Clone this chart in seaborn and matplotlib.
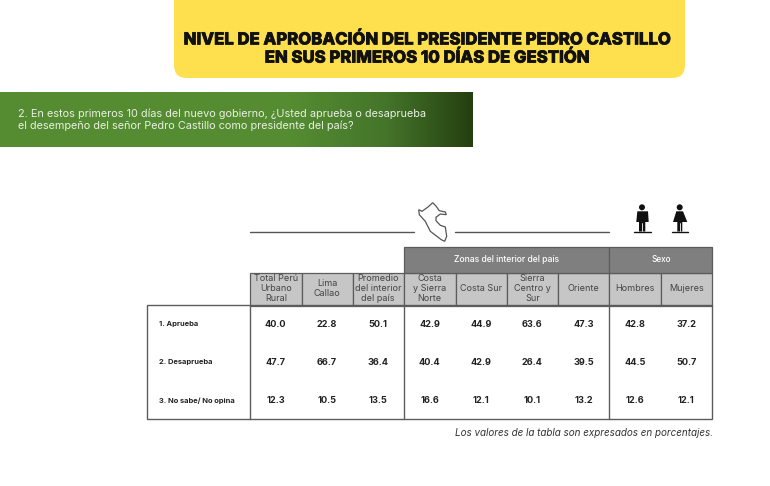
import numpy as np
import pandas as pd
import matplotlib
matplotlib.use("Agg")
import matplotlib.pyplot as plt
import matplotlib.patheffects as pe
import seaborn as sns
from matplotlib.colors import ListedColormap, LinearSegmentedColormap
from matplotlib.patches import FancyBboxPatch, Rectangle, Polygon, Circle

# data
columnas = ["Total Perú\nUrbano\nRural", "Lima\nCallao", "Promedio\ndel interior\ndel país",
            "Costa\ny Sierra\nNorte", "Costa Sur", "Sierra\nCentro y\nSur", "Oriente",
            "Hombres", "Mujeres"]
filas = ["1. Aprueba", "2. Desaprueba", "3. No sabe/ No opina"]
aprueba = [40.0, 22.8, 50.1, 42.9, 44.9, 63.6, 47.3, 42.8, 37.2]
desaprueba = [47.7, 66.7, 36.4, 40.4, 42.9, 26.4, 39.5, 44.5, 50.7]
no_sabe = [12.3, 10.5, 13.5, 16.6, 12.1, 10.1, 13.2, 12.6, 12.1]
titulo = "NIVEL DE APROBACIÓN DEL PRESIDENTE PEDRO CASTILLO\nEN SUS PRIMEROS 10 DÍAS DE GESTIÓN"
pregunta = ("2. En estos primeros 10 días del nuevo gobierno, ¿Usted aprueba o desaprueba\n"
            "el desempeño del señor Pedro Castillo como presidente del país?")
nota = "Los valores de la tabla son expresados en porcentajes."

df = pd.DataFrame([aprueba, desaprueba, no_sabe], index=filas, columns=columnas)

sns.set_theme(style="white")
plt.rcParams["font.family"] = ["Inter", "DejaVu Sans"]

W, H = 770, 486
borde = "#5c5c5c"
fig = plt.figure(figsize=(W / 100, H / 100), dpi=100, facecolor="white")

# heatmap for the value cells, x 250-712 and y 305-419 in pixels
ax = fig.add_axes([250 / W, 1 - 419.5 / H, 462 / W, 114 / H])
sns.heatmap(df, ax=ax, cmap=ListedColormap(["white"]), cbar=False, annot=True, fmt=".1f",
            annot_kws={"fontsize": 6.6, "fontweight": "bold", "color": "#222222"},
            xticklabels=False, yticklabels=False)
ax.set_xlabel("")
ax.set_ylabel("")

# overlay in pixel coordinates for everything around the table
bg = fig.add_axes([0, 0, 1, 1], zorder=3)
bg.set_xlim(0, W)
bg.set_ylim(H, 0)
bg.axis("off")
bg.patch.set_alpha(0)

# yellow title box
bg.add_patch(FancyBboxPatch((174, -30), 511, 108, boxstyle="round,pad=0,rounding_size=13",
                            fc="#fee04e", ec="none"))
bg.text(427.5, 49, titulo, ha="center", va="center", fontsize=12.05, fontweight="heavy",
        color="#111111", linespacing=1.25,
        path_effects=[pe.withStroke(linewidth=0.5, foreground="#111111")])

# green question band with gradient
verde = LinearSegmentedColormap.from_list("verde", [(0, "#558c32"), (0.62, "#558c32"), (0.82, "#44742a"), (1, "#253f10")])
bg.imshow(np.linspace(0, 1, 256).reshape(1, -1), cmap=verde, aspect="auto",
          extent=(0, 473, 147, 92.5), zorder=1)
bg.set_xlim(0, W)
bg.set_ylim(H, 0)
bg.text(18.5, 119.5, pregunta, ha="left", va="center", fontsize=7.85, color="#e8f0e0", linespacing=1.17, zorder=2)

# header cells
xs = [250, 301.6, 352.6, 403.7, 455.7, 506.7, 558, 609.3, 661.3, 712]
for i, col in enumerate(columnas):
    bg.add_patch(Rectangle((xs[i], 272.5), xs[i + 1] - xs[i], 33, fc="#c6c6c6", ec=borde, lw=0.9))
    bg.text((xs[i] + xs[i + 1]) / 2, 288.8, col, ha="center", va="center", fontsize=6.5,
            color="#444444", linespacing=1.14)

bg.add_patch(Rectangle((403.7, 246.8), 205.6, 25.7, fc="#7f7f7f", ec=borde, lw=0.9))
bg.add_patch(Rectangle((609.3, 246.8), 102.7, 25.7, fc="#7f7f7f", ec=borde, lw=0.9))
bg.text(506.5, 259.5, "Zonas del interior del país", ha="center", va="center", fontsize=6.2,
        fontweight="medium", color="white")
bg.text(661, 259.5, "Sexo", ha="center", va="center", fontsize=5.9, fontweight="medium", color="white")

# table frame
bg.add_patch(Rectangle((147.3, 305.3), 564.7, 113.7, fc="none", ec=borde, lw=1))
for x in [250, 403.7, 609.3]:
    bg.plot([x, x], [305.3, 419], color=borde, lw=1)
for y, fila in zip([324, 362, 400], filas):
    bg.text(159, y + 0.4, fila, ha="left", va="center", fontsize=5.4, fontweight="bold", color="#222222")

bg.text(713.5, 433, nota, ha="right", va="center", fontsize=7.1, style="italic", color="#333333")

# lines and Peru outline above the table
bg.plot([250, 413.5], [232.2, 232.2], color="#555555", lw=1)
bg.plot([455, 609], [232.2, 232.2], color="#555555", lw=1)
peru = [(418.7, 209.7), (422, 211.3), (428, 207), (432.7, 202.7), (436, 206), (439.3, 210.7),
        (445.3, 212), (446.3, 214.7), (440.3, 214), (436, 217.3), (436, 220.7), (440.3, 225.3),
        (445.3, 227), (446.7, 236.3), (444.7, 241.3), (441.3, 239.7), (430.3, 231.3),
        (425.3, 221.3), (419.3, 214.7)]
bg.add_patch(Polygon(peru, closed=True, fc="white", ec="#555555", lw=0.9))

# people icons
negro = "#111111"
bg.add_patch(Circle((642, 207.3), 3, fc=negro, ec="none"))
bg.add_patch(Polygon([(637.3, 211.3), (648, 211.3), (648.7, 222), (645.3, 222), (645.3, 231.5),
                      (639, 231.5), (639, 222), (636.3, 222)], fc=negro, ec="none"))
bg.plot([642.2, 642.2], [223, 231.5], color="white", lw=0.6)
bg.plot([634, 650.7], [232.3, 232.3], color=negro, lw=1)
bg.add_patch(Circle((679.7, 207.3), 3, fc=negro, ec="none"))
bg.add_patch(Polygon([(676.3, 211.3), (683, 211.3), (687.3, 222), (682.3, 222), (682.3, 231.5),
                      (677.3, 231.5), (677.3, 222), (673, 222)], fc=negro, ec="none"))
bg.plot([679.8, 679.8], [223, 231.5], color="white", lw=0.6)
bg.plot([672.3, 688], [232.3, 232.3], color=negro, lw=1)

fig.savefig("out.png", dpi=100)
